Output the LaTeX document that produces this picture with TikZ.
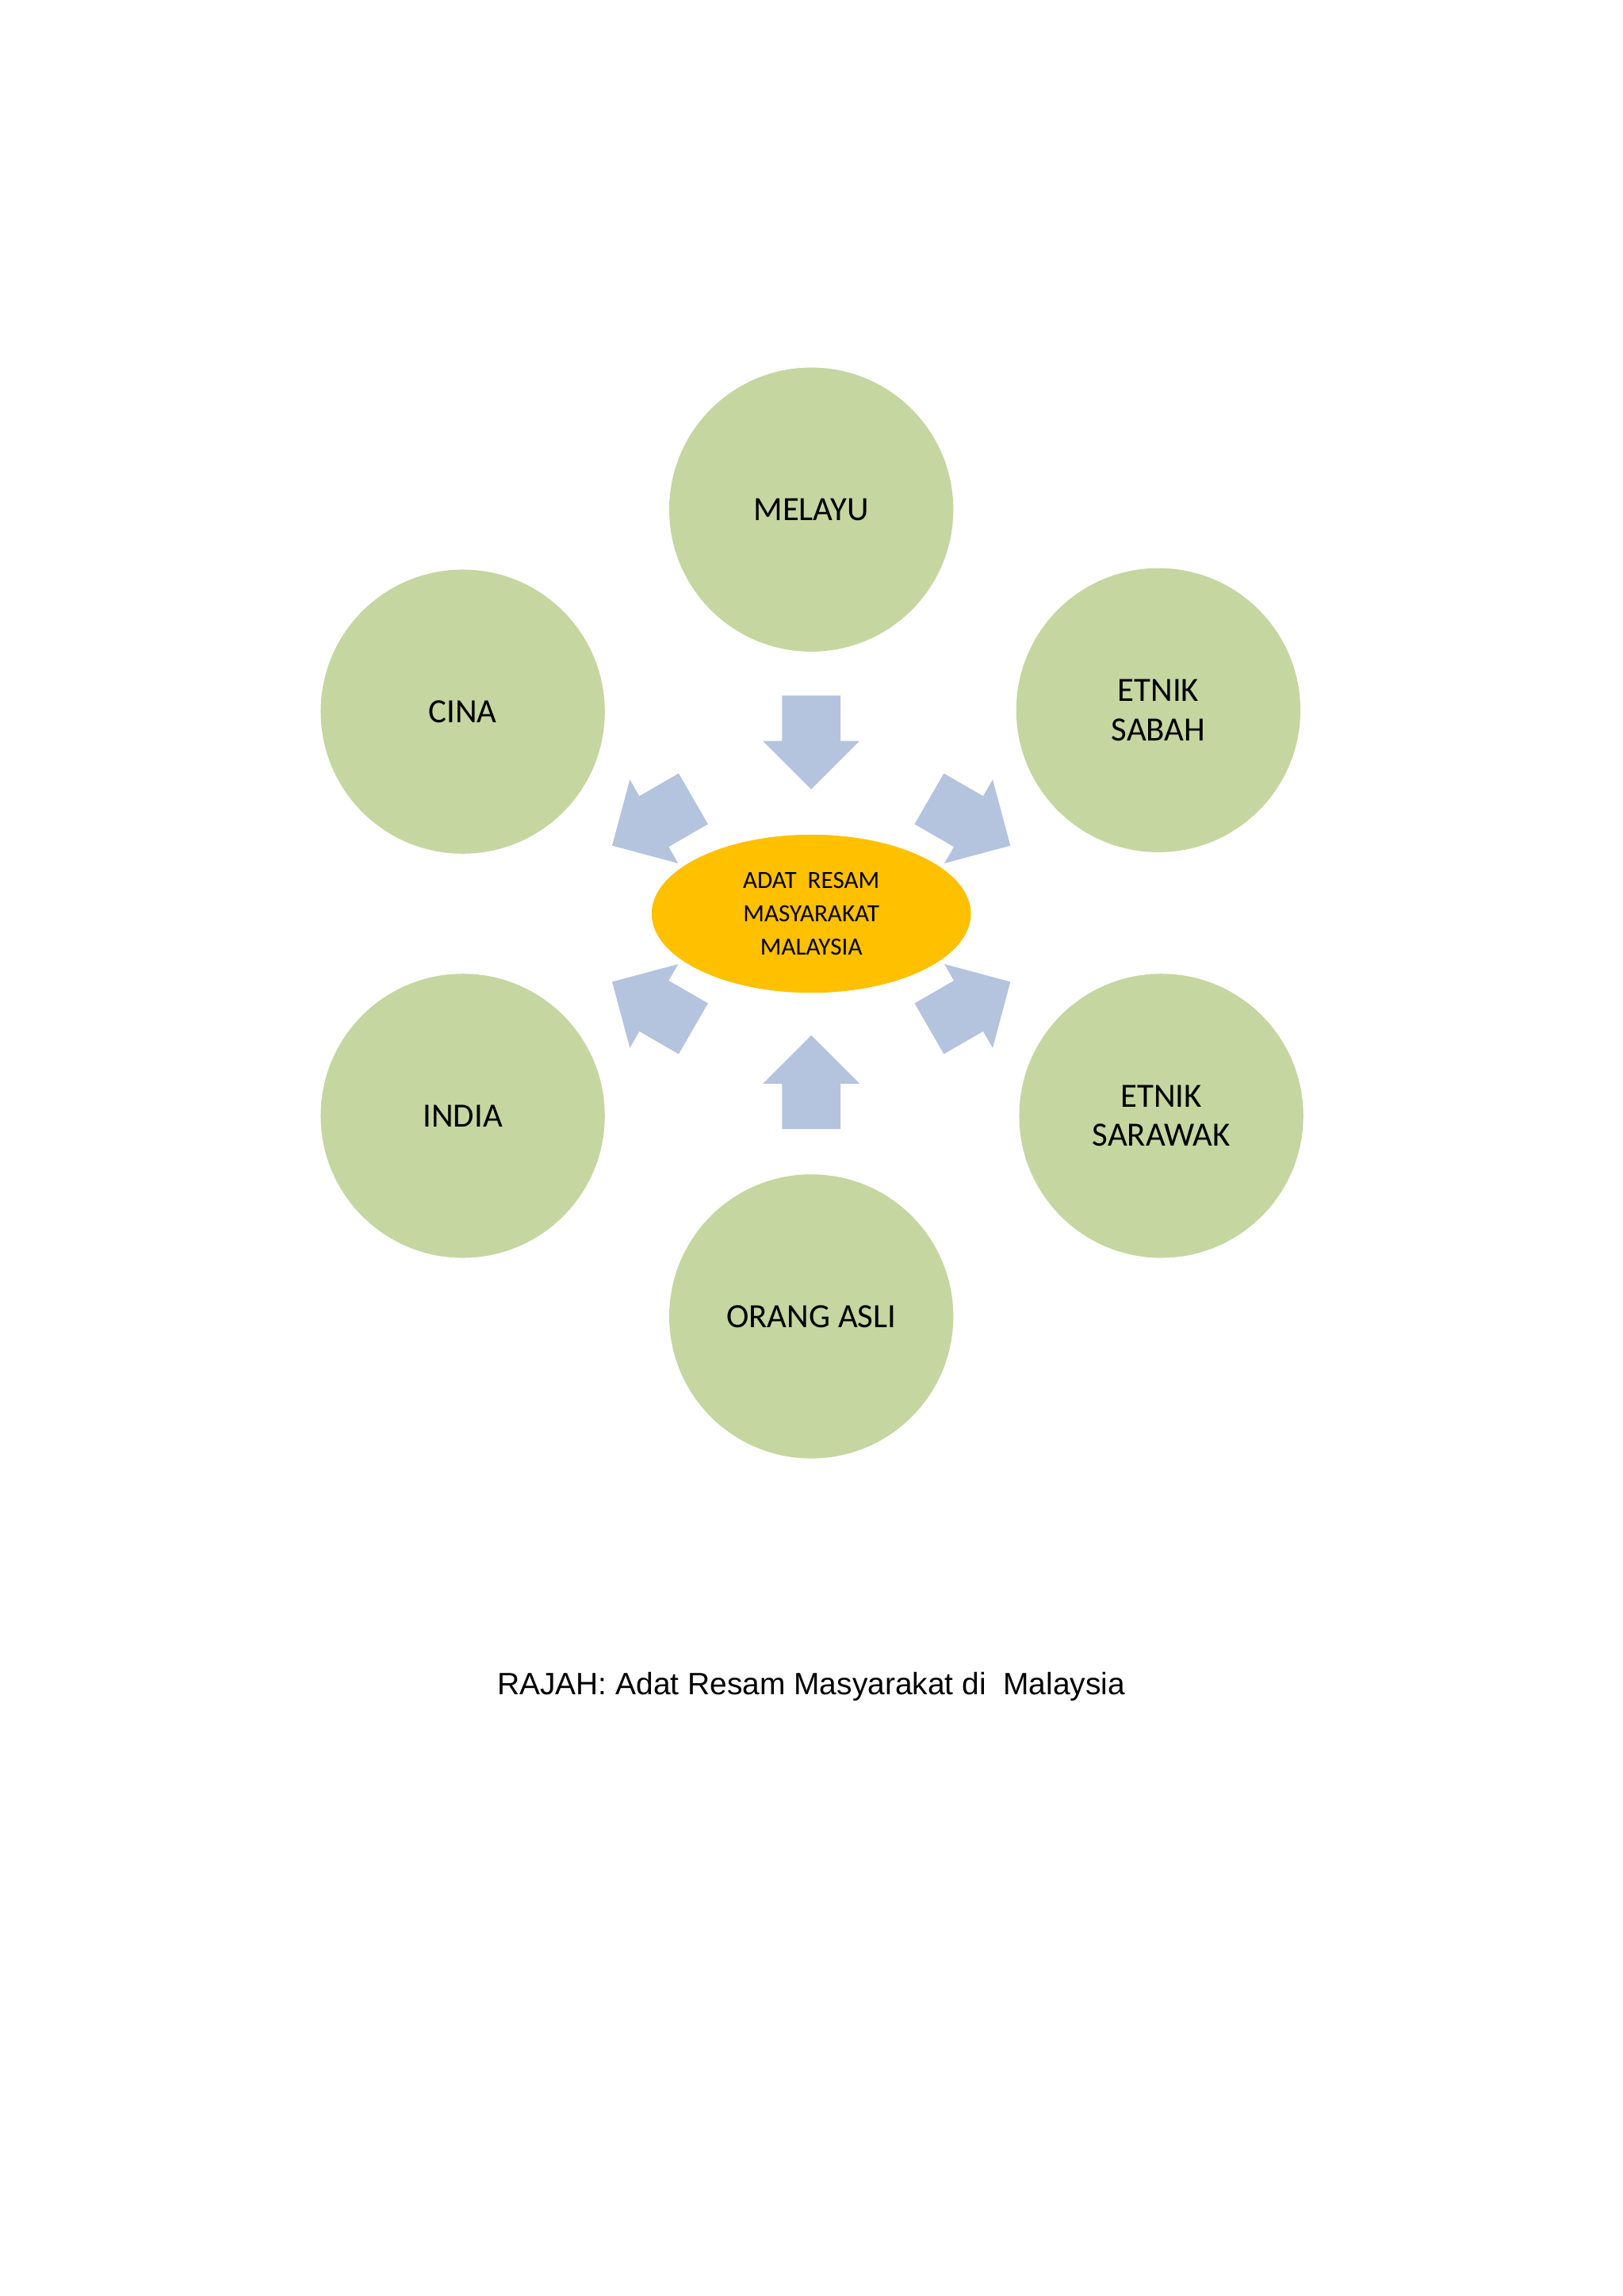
\documentclass[tikz,border=0pt]{standalone}
\usepackage{fontspec}
\usetikzlibrary{shapes.geometric,calc}
\setmainfont{Carlito}
\newfontfamily\capfont{Liberation Sans}
\definecolor{circ}{HTML}{C5D6A0}
\definecolor{ell}{HTML}{FFC000}
\definecolor{arr}{HTML}{B4C3DE}
\begin{document}
\begin{tikzpicture}[x=0.05cm,y=-0.05cm,
  bub/.style={circle,fill=circ,minimum size=194*0.05cm,inner sep=0pt,align=center,font=\fontsize{33}{38}\selectfont},
  blockarrow/.style={fill=arr}]
\useasboundingbox[fill=white] (0,0) rectangle (1108,1568);
\node[bub] (mel) at (554,348) {MELAYU};
\node[bub] (cina) at (316,486) {CINA};
\node[bub] (sab) at (791,485) {ETNIK\\SABAH};
\node[bub] (ind) at (316,762) {INDIA};
\node[bub] (sar) at (793,762) {ETNIK\\SARAWAK};
\node[bub] (oa) at (554,899) {ORANG ASLI};
\node[ellipse,fill=ell,minimum width=218*0.05cm,minimum height=108*0.05cm,inner sep=0pt,align=center,font=\fontsize{24}{32}\selectfont] (c) at (554,624) {ADAT~ RESAM\\MASYARAKAT\\MALAYSIA};
\foreach \a/\d in {90/115,270/117,30/125,150/125,210/125,330/125}{
  \begin{scope}[shift={($(c.center)+(\a:\d)$)},rotate=\a]
  \fill[blockarrow] (-32,-20) -- (-1,-20) -- (-1,-33) -- (32,0) -- (-1,33) -- (-1,20) -- (-32,20) -- cycle;
  \end{scope}}
\node[font=\capfont\fontsize{30}{36}\selectfont] (cap) at (554,1152) {RAJAH: Adat Resam Masyarakat di~ Malaysia};
\end{tikzpicture}
\end{document}
